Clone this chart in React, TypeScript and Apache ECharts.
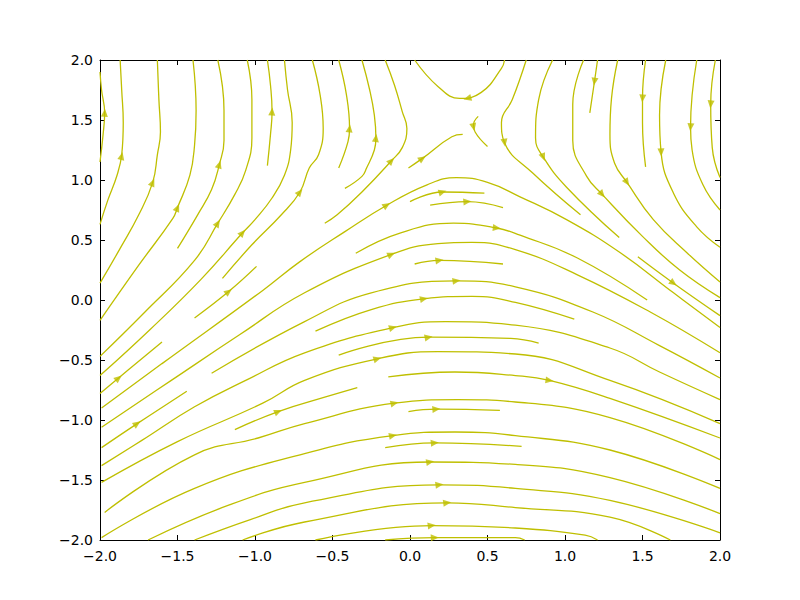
import React, { useEffect, useRef } from "react";
import * as echarts from "echarts";

// Streamlines, in data coordinates, listed in flow order.
const leftLines: number[][][] = [
  [[-2.0, 1.15], [-1.98, 1.38], [-1.97, 1.56], [-1.99, 1.75], [-2.0, 1.9]],
  [[-2.0, 0.63], [-1.95, 0.83], [-1.89, 1.04], [-1.86, 1.21], [-1.85, 1.48], [-1.86, 1.75], [-1.87, 2.0]],
  [[-2.0, 0.14], [-1.87, 0.43], [-1.75, 0.71], [-1.66, 0.98], [-1.63, 1.21], [-1.61, 1.4], [-1.62, 1.67], [-1.63, 2.0]],
  [[-2.0, -0.17], [-1.75, 0.29], [-1.53, 0.68], [-1.5, 0.77], [-1.42, 1.04], [-1.39, 1.29], [-1.38, 1.58], [-1.4, 2.0]],
  [[-1.5, 0.43], [-1.37, 0.71], [-1.28, 0.92], [-1.23, 1.13], [-1.2, 1.33], [-1.2, 1.58], [-1.24, 2.0]],
  [[-2.0, -0.47], [-1.71, -0.1], [-1.39, 0.33], [-1.24, 0.64], [-1.13, 0.88], [-1.06, 1.08], [-1.02, 1.35], [-1.02, 1.67], [-1.05, 2.0]],
  [[-0.92, 1.12], [-0.9, 1.38], [-0.89, 1.57], [-0.9, 1.79], [-0.92, 2.0]],
  [[-2.0, -0.63], [-1.68, -0.25], [-1.35, 0.17], [-1.08, 0.56], [-1.0, 0.67], [-0.89, 0.85], [-0.81, 1.04], [-0.77, 1.25], [-0.76, 1.48], [-0.79, 1.75], [-0.81, 2.0]],
  [[-1.21, 0.18], [-1.02, 0.46], [-0.83, 0.71], [-0.71, 0.9], [-0.65, 1.1], [-0.59, 1.21], [-0.56, 1.43], [-0.58, 1.71], [-0.63, 2.0]],
  [[-1.39, -0.15], [-1.17, 0.07], [-0.99, 0.28]],
  [[-0.46, 1.1], [-0.4, 1.32], [-0.39, 1.43], [-0.41, 1.71], [-0.46, 2.0]],
  [[-0.42, 0.93], [-0.31, 1.03], [-0.28, 1.1], [-0.23, 1.25], [-0.22, 1.35], [-0.23, 1.54], [-0.26, 1.75], [-0.31, 2.0]],
  [[-0.55, 0.64], [-0.47, 0.71], [-0.31, 0.9], [-0.12, 1.16], [-0.05, 1.27], [-0.02, 1.43], [-0.05, 1.57], [-0.1, 1.79], [-0.16, 2.0]],
  [[-2.0, -0.78], [-1.88, -0.65], [-1.6, -0.35]],
  [[-1.99, -1.23], [-1.76, -1.03], [-1.44, -0.76]],
  [[-1.13, -1.08], [-0.85, -0.93], [-0.55, -0.81], [-0.34, -0.73]],
];

const saddleLines: number[][][] = [
  [[0.61, 2.0], [0.59, 1.93], [0.46, 1.73], [0.32, 1.68], [0.18, 1.78], [0.03, 2.0]],
  [[-0.01, 1.1], [0.08, 1.18], [0.27, 1.36], [0.34, 1.38]],
  [[0.44, 1.53], [0.41, 1.46], [0.42, 1.4], [0.5, 1.28]],
];

const arcLines: number[][][] = [
  [[-1.99, -0.9], [-1.6, -0.53], [-0.95, 0.08], [-0.71, 0.32], [-0.42, 0.57], [-0.15, 0.79], [0.11, 0.96], [0.3, 1.02], [0.5, 0.98], [0.71, 0.86], [1.01, 0.67], [1.35, 0.4], [1.7, 0.06], [2.0, -0.23]],
  [[0.0, 0.82], [0.21, 0.9], [0.48, 0.89]],
  [[0.13, 0.79], [0.37, 0.82], [0.6, 0.77]],
  [[-0.35, 0.39], [-0.06, 0.56], [0.28, 0.64], [0.56, 0.6], [0.71, 0.54], [1.08, 0.35], [1.53, 0.0]],
  [[-1.99, -1.06], [-1.54, -0.67], [-1.1, -0.29], [-0.68, 0.06], [-0.12, 0.38], [0.18, 0.47], [0.4, 0.48], [0.68, 0.42], [1.08, 0.21], [1.55, -0.1], [2.0, -0.44]],
  [[0.03, 0.3], [0.19, 0.33], [0.6, 0.3]],
  [[-1.28, -0.61], [-0.68, -0.18], [-0.25, 0.06], [0.3, 0.16], [0.68, 0.11], [1.18, -0.1], [1.61, -0.38], [2.0, -0.65]],
  [[-0.61, -0.26], [-0.25, -0.08], [0.09, 0.01], [0.4, 0.03], [0.68, -0.02], [1.06, -0.16]],
  [[-1.99, -1.38], [-1.73, -1.17], [-1.39, -0.89], [-1.06, -0.67], [-0.68, -0.44], [-0.11, -0.23], [0.23, -0.18], [0.68, -0.21], [1.29, -0.4], [1.61, -0.6], [2.0, -0.83]],
  [[-0.46, -0.46], [0.12, -0.31], [0.65, -0.32], [0.83, -0.36]],
  [[-1.99, -1.52], [-1.5, -1.18], [-0.95, -0.86], [-0.68, -0.67], [-0.21, -0.49], [0.18, -0.43], [0.68, -0.45], [1.29, -0.67], [2.0, -1.03]],
  [[-0.14, -0.64], [0.29, -0.6], [0.68, -0.63], [0.9, -0.67], [1.29, -0.82], [2.0, -1.15]],
  [[-1.97, -1.77], [-1.39, -1.29], [-0.98, -1.15], [-0.68, -1.03], [-0.1, -0.86], [0.31, -0.83], [0.68, -0.85], [1.29, -0.98], [2.0, -1.33]],
  [[-0.01, -0.93], [0.17, -0.91], [0.58, -0.92]],
  [[-1.99, -1.98], [-1.39, -1.57], [-0.68, -1.28], [-0.11, -1.13], [0.29, -1.1], [0.68, -1.13], [1.29, -1.25], [2.0, -1.57]],
  [[-0.16, -1.23], [0.16, -1.19], [0.72, -1.22]],
  [[-1.69, -2.0], [-1.17, -1.71], [-0.68, -1.52], [0.13, -1.35], [0.68, -1.37], [1.29, -1.48], [2.0, -1.78]],
  [[-1.39, -2.0], [-1.03, -1.83], [-0.68, -1.69], [0.19, -1.54], [0.68, -1.57], [1.29, -1.67], [2.0, -1.94]],
  [[-1.08, -2.0], [-0.68, -1.85], [0.24, -1.69], [0.68, -1.73], [1.29, -1.81], [1.68, -2.0]],
  [[-0.61, -2.0], [0.14, -1.88], [0.68, -1.9], [1.13, -1.96], [1.21, -2.0]],
  [[-0.16, -2.0], [0.16, -1.98], [0.68, -1.98], [0.74, -2.0]],
];

const rightLines: number[][][] = [
  [[0.75, 2.0], [0.66, 1.67], [0.59, 1.48], [0.61, 1.31], [0.79, 1.06], [1.1, 0.71]],
  [[0.92, 2.0], [0.83, 1.67], [0.81, 1.35], [0.86, 1.19], [1.01, 0.94], [1.35, 0.52]],
  [[1.21, 2.0], [1.19, 1.82], [1.16, 1.56]],
  [[1.12, 2.0], [1.05, 1.63], [1.05, 1.33], [1.14, 1.03], [1.24, 0.88], [1.5, 0.53], [1.74, 0.25], [2.0, 0.02]],
  [[1.34, 2.0], [1.3, 1.68], [1.29, 1.38], [1.32, 1.14], [1.4, 0.98], [1.57, 0.67], [1.79, 0.39], [2.0, 0.15]],
  [[1.52, 2.0], [1.5, 1.68], [1.5, 1.48], [1.52, 1.11]],
  [[1.65, 2.0], [1.61, 1.54], [1.62, 1.23], [1.7, 0.89], [1.85, 0.61], [2.0, 0.44]],
  [[1.85, 2.0], [1.81, 1.44], [1.82, 1.25], [1.89, 0.96], [2.0, 0.75]],
  [[1.97, 2.0], [1.94, 1.63], [1.95, 1.27], [2.0, 1.02]],
  [[1.47, 0.36], [1.7, 0.14], [2.0, -0.13]],
];

// Arrow-head positions.
const arrowPoints: number[][] = [
  [-1.97, 1.56], [-1.86, 1.2], [-1.66, 0.98], [-1.5, 0.77], [-1.23, 1.13], [-1.24, 0.64],
  [-0.89, 1.57], [-1.08, 0.56], [-0.71, 0.9], [-1.17, 0.07], [-0.39, 1.43], [-0.22, 1.35],
  [-0.12, 1.16], [-1.88, -0.65], [-1.76, -1.03], [-0.85, -0.93],
  [0.37, 1.68], [0.08, 1.18], [0.41, 1.44],
  [-0.15, 0.79], [0.21, 0.9], [0.37, 0.82], [0.56, 0.6], [-0.12, 0.38], [0.19, 0.33],
  [0.3, 0.16], [0.09, 0.01], [-0.11, -0.23], [0.12, -0.31], [-0.21, -0.49], [0.9, -0.67],
  [-0.1, -0.86], [0.17, -0.91], [-0.11, -1.13], [0.16, -1.19], [0.13, -1.35], [0.19, -1.54],
  [0.24, -1.69], [0.14, -1.88], [0.16, -1.98],
  [0.61, 1.31], [0.86, 1.19], [1.19, 1.82], [1.24, 0.88], [1.4, 0.98], [1.5, 1.68],
  [1.62, 1.23], [1.81, 1.44], [1.94, 1.63], [1.7, 0.14],
];

const tickValues = [-2.0, -1.5, -1.0, -0.5, 0.0, 0.5, 1.0, 1.5, 2.0];

const COLOR = "#bfbf00";
const fmt = (v: number) => v.toFixed(1).replace("-", "\u2212");

export default function App() {
  const ref = useRef<HTMLDivElement>(null);
  useEffect(() => {
    if (!ref.current) return;
    const chart = echarts.init(ref.current, undefined, { renderer: "svg" });
    const allLines = [...leftLines, ...saddleLines, ...arcLines, ...rightLines];
    const axisCommon = {
      type: "value" as const,
      min: tickValues[0],
      max: tickValues[tickValues.length - 1],
      interval: 0.5,
      splitLine: { show: false },
      axisLine: { show: true, onZero: false, lineStyle: { color: "#000", width: 1 } },
      axisTick: { show: true, inside: true, length: 5, lineStyle: { color: "#000" } },
    };
    const labelStyle = {
      color: "#000",
      fontSize: 14,
      fontFamily: "DejaVu Sans",
      formatter: fmt,
    };
    const lineSeries = allLines.map((pts) => ({
      type: "line" as const,
      data: pts,
      showSymbol: false,
      smooth: 0.45,
      clip: true,
      silent: true,
      lineStyle: { color: COLOR, width: 1.3 },
      xAxisIndex: 0,
      yAxisIndex: 0,
    }));
    chart.setOption({
      animation: false,
      grid: { left: 100, right: 80, top: 60, bottom: 60, containLabel: false },
      xAxis: [
        { ...axisCommon, position: "bottom", axisLabel: { ...labelStyle, margin: 9 } },
        { ...axisCommon, position: "top", axisLabel: { show: false } },
      ],
      yAxis: [
        { ...axisCommon, position: "left", axisLabel: { ...labelStyle, margin: 7 } },
        { ...axisCommon, position: "right", axisLabel: { show: false } },
      ],
      series: lineSeries,
    });

    // Orient each arrow along the nearest traced streamline segment (pixel space).
    const toPx = (p: number[]) => chart.convertToPixel({ gridIndex: 0 }, p) as number[];
    const pxLines = allLines.map((l) => l.map(toPx));
    const arrowData = arrowPoints.map((a) => {
      const ap = toPx(a);
      let best = Infinity;
      let dir = [1, 0];
      pxLines.forEach((l) => {
        for (let i = 0; i < l.length - 1; i++) {
          const p = l[i], q = l[i + 1];
          const dx = q[0] - p[0], dy = q[1] - p[1];
          const len2 = dx * dx + dy * dy || 1;
          let t = ((ap[0] - p[0]) * dx + (ap[1] - p[1]) * dy) / len2;
          t = Math.max(0, Math.min(1, t));
          const cx = p[0] + t * dx, cy = p[1] + t * dy;
          const d = (ap[0] - cx) ** 2 + (ap[1] - cy) ** 2;
          if (d < best) {
            best = d;
            dir = [dx, dy];
          }
        }
      });
      const ang = (Math.atan2(-dir[1], dir[0]) * 180) / Math.PI;
      return { value: a, symbolRotate: ang - 90 };
    });
    chart.setOption({
      series: [
        ...lineSeries,
        {
          type: "scatter",
          data: arrowData,
          symbol: "triangle",
          symbolSize: [7, 8],
          itemStyle: { color: COLOR },
          silent: true,
          z: 5,
        },
      ],
    });
    return () => chart.dispose();
  }, []);
  return (
    <div
      ref={ref}
      style={{ position: "absolute", left: 0, top: 0, width: 800, height: 600, background: "#fff" }}
    />
  );
}
